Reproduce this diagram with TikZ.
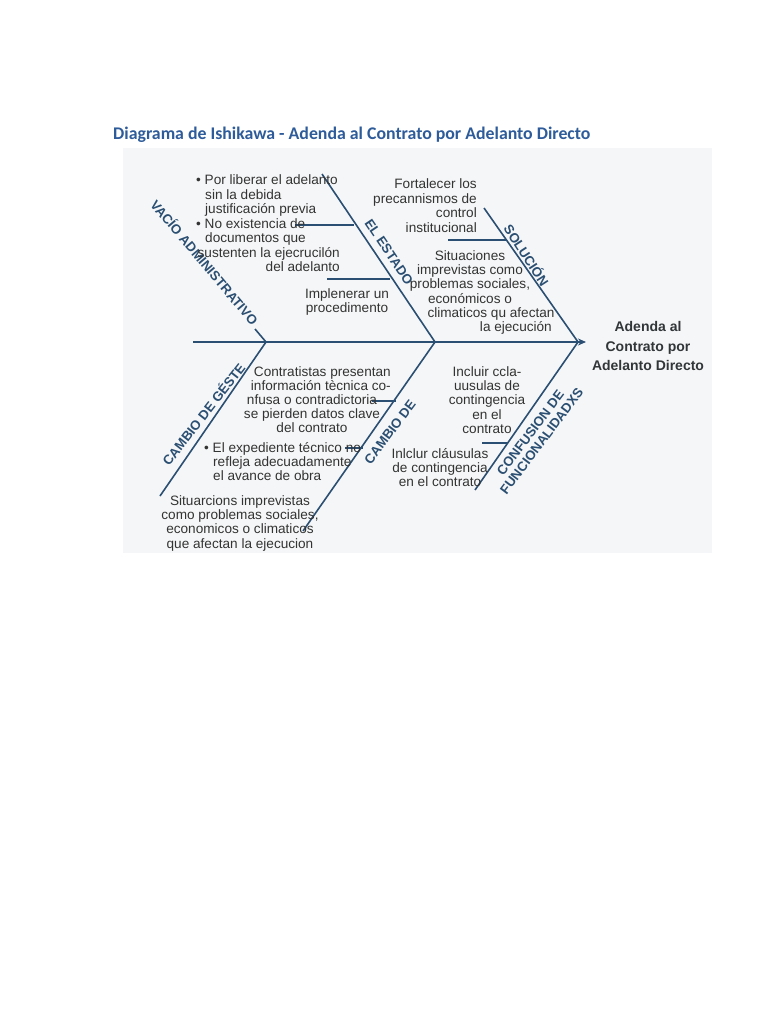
\documentclass[tikz,border=0pt]{standalone}
\usepackage{fontspec}
\setmainfont{Liberation Sans}
\newfontfamily\titlefont{Carlito}
\usetikzlibrary{arrows.meta}
\definecolor{bone}{HTML}{2B4F72}
\definecolor{ttl}{HTML}{2E5C9A}
\definecolor{txt}{HTML}{333333}
\definecolor{bg}{HTML}{F5F6F7}
\tikzset{
  x=1pt,y=-1pt,
  bonel/.style={draw=bone,line width=1.6pt},
  subl/.style={draw=bone,line width=1.2pt},
  cause/.style={font=\fontsize{13.6}{14.4}\selectfont,text=txt,inner sep=0pt,align=#1},
  cause/.default=center,
  cat/.style={font=\fontsize{13.3}{14}\selectfont\bfseries,text=bone,inner sep=0pt,align=center},
}
\begin{document}
\begin{tikzpicture}
\useasboundingbox (0,0) rectangle (768,1024);
\fill[white] (0,0) rectangle (768,1024);
\fill[bg] (123,148) rectangle (712,553);
\node[anchor=west,font=\titlefont\fontsize{17.8}{20}\selectfont\bfseries,text=ttl,inner sep=0pt] (title) at (113,135) {Diagrama de Ishikawa - Adenda al Contrato por Adelanto Directo};
% spine
\coordinate (s0) at (193,342);
\coordinate (j1) at (266,342);
\coordinate (j2) at (435,342);
\coordinate (j3) at (578,342);
\node[font=\fontsize{14}{19.5}\selectfont\bfseries,text=txt!90!bone,align=center,inner sep=0pt] (effect) at (648,346) {Adenda al\\Contrato por\\Adelanto Directo};
\draw[bonel,-{Stealth[length=8pt,width=7pt]}] (s0) -- (586,342);
% bones
\coordinate (a1) at (255,329);
\coordinate (e1) at (322,174);
\coordinate (so1) at (484,208);
\coordinate (g1) at (160,496);
\coordinate (c1) at (303,531);
\coordinate (f1) at (475,490);
\draw[bonel] (a1) -- (j1);
\draw[bonel] (e1) -- (j2);
\draw[bonel] (so1) -- (j3);
\draw[bonel] (j1) -- (g1);
\draw[bonel] (j2) -- (c1);
\draw[bonel] (j3) -- (f1);
% category labels
\node[cat,rotate=-50] (lva) at (205,262) {VACÍO ADMINISTRATIVO};
\node[cat,rotate=-56] (les) at (389,252) {EL ESTADO};
\node[cat,rotate=-57] (lso) at (527,255) {SOLUCIÓN};
\node[cat,rotate=52] (lge) at (203,414) {CAMBIO DE GÉSTE};
\node[cat,rotate=53] (lcd) at (390,432) {CAMBIO DE};
\node[cat,rotate=53] (lcf) at (536,437) {CONFUSION DE\\FUNCIONALIDADXS};
% sub branches
\coordinate (b1a) at (295,225); \coordinate (b1b) at (354,225);
\coordinate (b2a) at (327,279); \coordinate (b2b) at (390,279);
\coordinate (b3a) at (448,240); \coordinate (b3b) at (507,240);
\coordinate (b4a) at (372,401); \coordinate (b4b) at (396,401);
\coordinate (b5a) at (345,448); \coordinate (b5b) at (363,448);
\coordinate (b6a) at (482,443); \coordinate (b6b) at (508,443);
\draw[subl] (b1a)--(b1b); \draw[subl] (b2a)--(b2b); \draw[subl] (b3a)--(b3b);
\draw[subl] (b4a)--(b4b); \draw[subl] (b5a)--(b5b); \draw[subl] (b6a)--(b6b);
% causes (anchor base = baseline of last line)
\node[cause=left,anchor=base west] (t1) at (196,242.6) {•\ Por liberar el adelanto\\\hspace*{9pt}sin la debida\\\hspace*{9pt}justificación previa\\•\ No existencia de\\\hspace*{9pt}documentos que};
\node[cause=right,anchor=base east] (t2) at (340,271.4) {sustenten la ejecrucilón\\del adelanto};
\node[cause,anchor=base] (t3) at (347,312.4) {Implenerar un\\procedimento};
\node[cause=right,anchor=base east] (t4) at (477,232.2) {Fortalecer los\\precannismos de\\control\\institucional};
\node[cause,anchor=base] (t5) at (470,303.2) {Situaciones\\imprevistas como\\problemas sociales,\\económicos o};
\node[cause,anchor=base] (t5c) at (491,317) {climaticos qu afectan};
\node[cause=right,anchor=base east] (t5b) at (552,331) {la ejecución};
\node[cause=right,anchor=base east] (t6a) at (391,390.4) {Contratistas presentan\\información tècnica co-};
\node[cause,anchor=base] (t6b) at (312,432.8) {nfusa o contradictoria\\se pierden datos clave\\del contrato};
\node[cause=left,anchor=base west] (t7) at (204,480.8) {•\ El expediente técnico no\\\hspace*{9pt}refleja adecuadamente\\\hspace*{9pt}el avance de obra};
\node[cause,anchor=base] (t8) at (240,548.2) {Situarcions imprevistas\\como problemas sociales,\\economicos o climaticos\\que afectan la ejecucion};
\node[cause,anchor=base] (t9) at (487,433.6) {Incluir ccla-\\uusulas de\\contingencia\\en el\\contrato};
\node[cause,anchor=base] (t10) at (440,486.8) {Inlclur cláusulas\\de contingencia\\en el contrato};
\end{tikzpicture}
\end{document}
